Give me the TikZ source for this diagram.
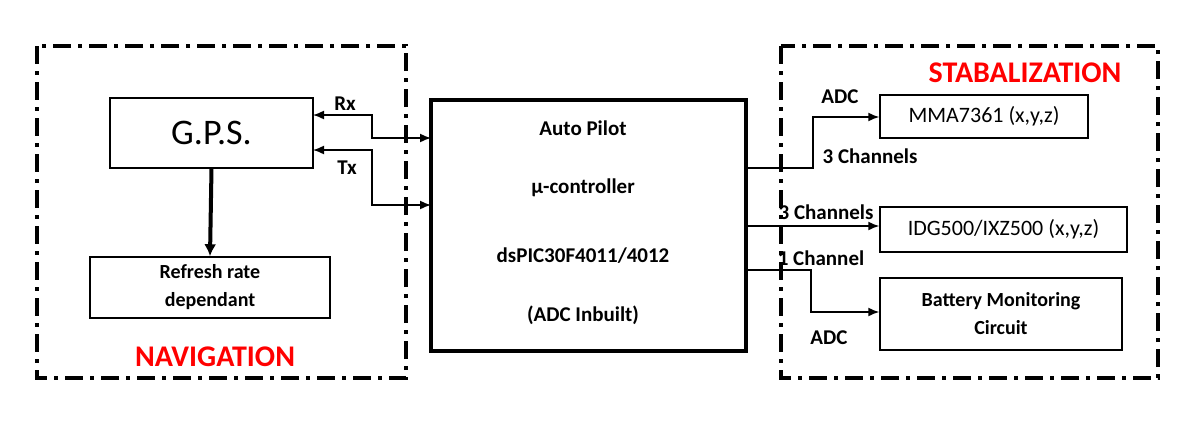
\documentclass[tikz,border=0pt]{standalone}
\usepackage{fontspec}
\setmainfont{Carlito}
\usetikzlibrary{arrows.meta}
\begin{document}
\begin{tikzpicture}[x=1pt,y=-1pt,
  dd/.style={line width=3.5pt,dash pattern=on 18pt off 7pt on 4pt off 7pt},
  box/.style={draw,line width=1.5pt,inner sep=0pt},
  con/.style={line width=1.5pt,-{Latex[length=11pt,width=9pt]}},
  lbl/.style={font=\bfseries\fontsize{21}{23}\selectfont},
  aplbl/.style={font=\bfseries\fontsize{21}{23}\selectfont},
  red/.style={text=red,font=\bfseries\fontsize{30}{32}\selectfont}]
\useasboundingbox (0,0) rectangle (1191,437);
\draw[dd] (37,46) rectangle (406,378);
\draw[dd] (781,46) rectangle (1158,378);
\node[box,minimum width=203pt,minimum height=70pt,font=\fontsize{36}{38}\selectfont] (gps) at (211.5,133) {G.P.S.};
\node[box,minimum width=240pt,minimum height=61pt,align=center,font=\bfseries\fontsize{20}{28}\selectfont] (ref) at (210,287.5) {Refresh rate\\dependant};
\draw[line width=4pt,-{Latex[length=12pt,width=12pt]}] (gps.south) -- (ref.north);
\node[draw,line width=4pt,minimum width=315pt,minimum height=251pt,inner sep=0pt] (ap) at (588.5,225.5) {};
\node[aplbl] (t1) at (583,128) {Auto Pilot};
\node[aplbl] (t2) at (583,188) {µ-controller};
\node[aplbl] (t3) at (583,256) {dsPIC30F4011/4012};
\node[aplbl] (t4) at (583,315) {(ADC Inbuilt)};
\coordinate (rxa) at (431,138); \coordinate (rxg) at (313,115);
\coordinate (txa) at (431,205); \coordinate (txg) at (313,150);
\draw[con,{Latex[length=11pt,width=9pt]}-{Latex[length=11pt,width=9pt]}] (rxg) -- (372,115) -- (372,138) -- (rxa);
\draw[con,{Latex[length=11pt,width=9pt]}-{Latex[length=11pt,width=9pt]}] (txg) -- (372,150) -- (372,205) -- (txa);
\node[lbl] (rx) at (345,104) {Rx};
\node[lbl] (tx) at (347,168) {Tx};
\node[box,minimum width=208pt,minimum height=43pt,font=\fontsize{22}{24}\selectfont] (mma) at (984,116.5) {MMA7361 (x,y,z)};
\node[box,minimum width=247pt,minimum height=45pt,font=\fontsize{22}{24}\selectfont] (idg) at (1003.5,229.5) {IDG500/IXZ500 (x,y,z)};
\node[box,minimum width=242pt,minimum height=72pt,align=center,font=\bfseries\fontsize{20}{28}\selectfont] (bat) at (1001,314) {Battery Monitoring\\Circuit};
\draw[con] (746,168) -- (813,168) -- (813,117) -- (mma.west|-0,117);
\draw[con] (746,226) -- (idg.west|-0,226);
\draw[con] (746,270) -- (811,270) -- (811,312) -- (bat.west|-0,312);
\node[lbl] (l1) at (840,97) {ADC};
\node[lbl] (l2) at (870,156) {3 Channels};
\node[lbl] (l3) at (826,212) {3 Channels};
\node[lbl] (l4) at (821,258) {1 Channel};
\node[lbl] (l5) at (829,338) {ADC};
\node[red] (nav) at (215,357) {NAVIGATION};
\node[red] (stab) at (1025,73) {STABALIZATION};
\end{tikzpicture}
\end{document}
